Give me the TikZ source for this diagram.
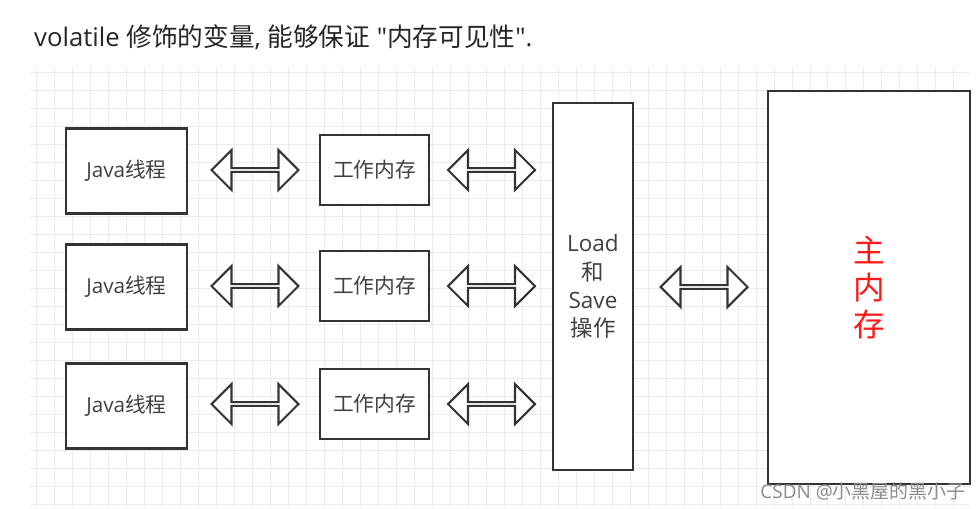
\documentclass[tikz,border=0pt]{standalone}
\usepackage{fontspec}
\setmainfont{Open Sans}
\newfontfamily\cjk{Noto Sans CJK SC}
\usetikzlibrary{shapes.arrows}

\tikzset{
  box/.style={draw=black!80, line width=1.2pt, fill=white, font=\fontsize{11.8}{13}\selectfont, text=black!75},
  dblarrow/.style={double arrow, draw=black!80, line width=1.2pt, fill=white,
    minimum width=0.8cm, double arrow head extend=0.2cm, minimum height=1.74cm, inner sep=0pt}
}

\begin{document}
\begin{tikzpicture}[x=0.02cm, y=-0.02cm]

\useasboundingbox (0,0) rectangle (976,508);
\fill[white] (0,0) rectangle (976,508);

% grid
\draw[black!8, line width=0.4pt, step=0.36cm] (30,67) grid (970,508);

\node[anchor=west, font=\fontsize{14.6}{16}\selectfont, text=black!85] (title) at (28,37)
  {volatile {\cjk 修饰的变量}, {\cjk 能够保证} \textquotedbl{\cjk 内存可见性}\textquotedbl.};

% threads and working memory
\foreach \i/\yt/\yw in {1/171/170, 2/287/286, 3/406/404} {
  \node[box, minimum width=2.42cm, minimum height=1.7cm] (thread\i) at (126.5,\yt) {Java{\cjk 线程}};
  \node[box, minimum width=2.18cm, minimum height=1.4cm] (work\i) at (374.5,\yw) {\cjk 工作内存};
  \node[dblarrow] (arrA\i) at (255,\yw) {};
  \node[dblarrow] (arrB\i) at (491.5,\yw) {};
}

\node[box, minimum width=1.6cm, minimum height=7.34cm, align=center,
  font=\fontsize{12.8}{16}\selectfont] (loadsave) at (593,286.5) {Load\\{\cjk 和}\\Save\\{\cjk 操作}};
\node[dblarrow] (arrC) at (704,287) {};
\node[box, minimum width=4.04cm, minimum height=7.86cm, align=center, text=red!90,
  font=\cjk\fontsize{18}{21}\selectfont] (mainmem) at (869,287.5) {主\\内\\存};

\node[anchor=east, font=\fontsize{10.8}{12}\selectfont, text=black!45] (mark) at (972,491)
  {CSDN @{\cjk 小黑屋的黑小子}};

\end{tikzpicture}
\end{document}
